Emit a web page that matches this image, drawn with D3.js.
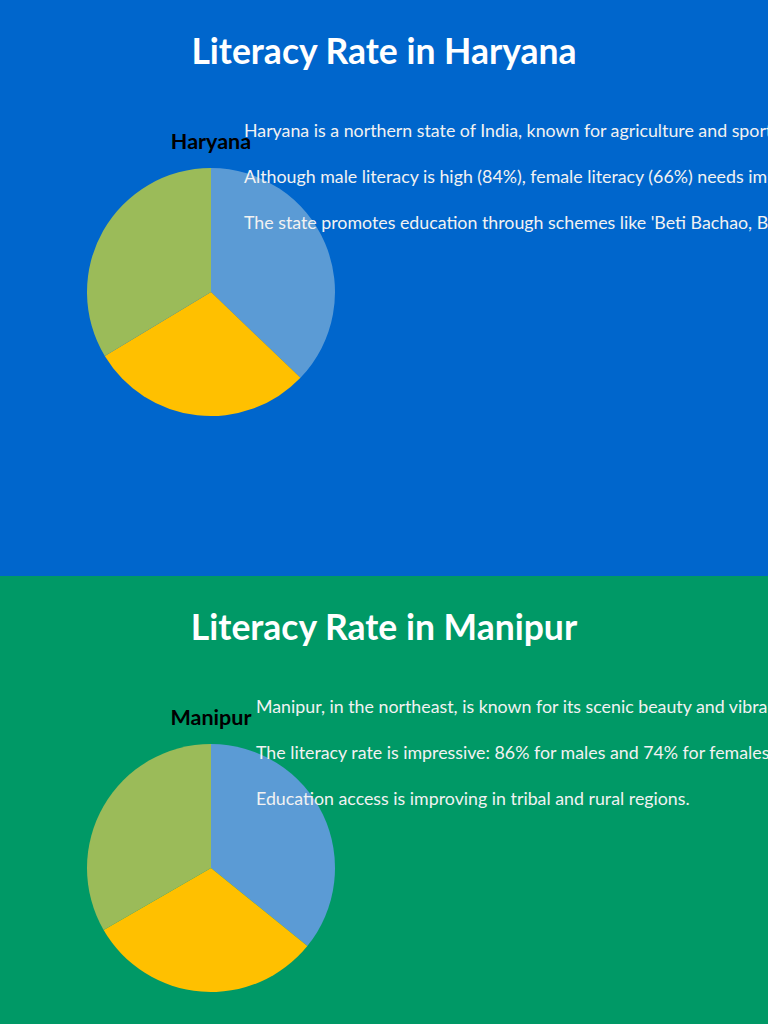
<!DOCTYPE html>
<html>
<head>
<meta charset="utf-8">
<script src="https://cdn.jsdelivr.net/npm/d3@7"></script>
<style>
html,body{margin:0;padding:0;background:#fff;overflow:hidden;}
svg{display:block;}
</style>
</head>
<body>
<svg id="chart" width="768" height="1024"></svg>
<script>
const categories = ["Male", "Female", "Total"];
const sliceColors = ["#5B9BD5", "#FFC000", "#9BBB59"];
const states = ["Haryana", "Manipur"];
const titles = ["Literacy Rate in Haryana", "Literacy Rate in Manipur"];
const haryanaValues = [84, 66, 76];
const manipurValues = [86, 74, 80];
const backgrounds = ["#0066CC", "#009966"];
const haryanaText = [
  "Haryana is a northern state of India, known for agriculture and sports.",
  "Although male literacy is high (84%), female literacy (66%) needs improvement.",
  "The state promotes education through schemes like 'Beti Bachao, Beti Padhao'."
];
const manipurText = [
  "Manipur, in the northeast, is known for its scenic beauty and vibrant culture.",
  "The literacy rate is impressive: 86% for males and 74% for females.",
  "Education access is improving in tribal and rural regions."
];
const valuesList = [haryanaValues, manipurValues];
const textList = [haryanaText, manipurText];

const W = 768, slideH = 576;
const svg = d3.select("#chart");
const font = "Lato, 'Open Sans', sans-serif";

const pie = d3.pie().sort(null).value(d => d.v);
const arc = d3.arc().innerRadius(0).outerRadius(124);
const color = d3.scaleOrdinal().domain(categories).range(sliceColors);

states.forEach((s, i) => {
  const g = svg.append("g").attr("transform", `translate(0,${i * slideH})`);
  g.append("rect").attr("width", W).attr("height", slideH).attr("fill", backgrounds[i]);
  g.append("text").attr("x", 384).attr("y", 64).attr("text-anchor", "middle")
    .attr("font-family", font).attr("font-weight", "bold").attr("font-size", 35.5)
    .attr("fill", "#fff").text(titles[i]);

  const data = categories.map((c, k) => ({c, v: valuesList[i][k]}));
  const pg = g.append("g").attr("transform", "translate(211,292)");
  pg.selectAll("path").data(pie(data)).join("path")
    .attr("d", arc).attr("fill", d => color(d.data.c));

  const tx = i === 0 ? 244 : 256;
  g.append("g").selectAll("text").data(textList[i]).join("text")
    .attr("x", tx).attr("y", (d, k) => 137 + k * 46)
    .attr("font-family", font).attr("font-size", 17.8).attr("fill", "#F2F2F2")
    .text(d => d);

  g.append("text").attr("x", 211).attr("y", 149).attr("text-anchor", "middle")
    .attr("font-family", font).attr("font-weight", "bold").attr("font-size", 21.5)
    .attr("fill", "#000").text(s);
});
</script>
</body>
</html>
